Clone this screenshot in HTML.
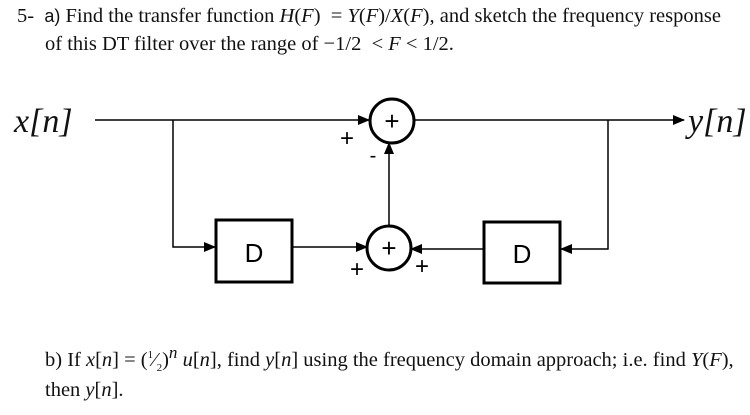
<!DOCTYPE html>
<html><head><meta charset="utf-8"><style>
body{margin:0;width:750px;height:415px;background:#fff;overflow:hidden;font-family:"Liberation Serif",serif;}
.t{position:absolute;font-size:20.5px;white-space:nowrap;color:#111;}
i{font-style:italic;}
</style></head><body>
<div class="t" style="left:17px;top:5px;">5- &nbsp;<span style="font-family:'Liberation Sans',sans-serif;font-size:18px">a)</span> Find the transfer function <i>H</i>(<i>F</i>) &nbsp;= <i>Y</i>(<i>F</i>)/<i>X</i>(<i>F</i>), and sketch the frequency response</div>
<div class="t" style="left:45px;top:33px;">of this DT filter over the range of −1/2 &nbsp;&lt; <i>F</i> &lt; 1/2.</div>
<svg width="750" height="415" style="position:absolute;left:0;top:0">
<defs><marker id="a" markerWidth="12" markerHeight="10" refX="11" refY="5" orient="auto" markerUnits="userSpaceOnUse"><path d="M0,0L12,5L0,10z" fill="#000"/></marker></defs>
<g font-family="Liberation Serif" font-style="italic" font-size="34" fill="#111">
<text x="14" y="132">x[n]</text><text x="688" y="132">y[n]</text></g>
<g stroke="#000" stroke-width="1.5" fill="none">
<line x1="95" y1="120" x2="369" y2="120" marker-end="url(#a)"/>
<line x1="415" y1="120" x2="684" y2="120" marker-end="url(#a)"/>
<polyline points="173,120 173,247 215,247" marker-end="url(#a)"/>
<polyline points="608,120 608,249 561,249" marker-end="url(#a)"/>
<line x1="292" y1="247" x2="367" y2="247" marker-end="url(#a)"/>
<line x1="484" y1="249" x2="411" y2="249" marker-end="url(#a)"/>
<line x1="389" y1="226" x2="389" y2="143" marker-end="url(#a)"/>
</g>
<g stroke="#000" stroke-width="3" fill="#fff">
<circle cx="392" cy="121" r="22"/><circle cx="389" cy="248" r="22"/>
<rect x="216" y="220" width="76" height="62"/><rect x="484" y="222" width="76" height="61"/>
</g>
<g font-family="Liberation Sans" font-size="26" fill="#000" text-anchor="middle">
<text x="392" y="130">+</text><text x="389" y="257">+</text>
<text x="347" y="146" font-size="24">+</text><text x="373" y="162" font-size="20">-</text>
<text x="357" y="277" font-size="24">+</text><text x="422" y="274" font-size="24">+</text>
<text x="254" y="262">D</text><text x="522" y="263">D</text>
</g>
</svg>
<div class="t" style="left:45px;top:343px;">b) If <i>x</i>[<i>n</i>] = (<sup style="font-size:11px">1</sup>⁄<sub style="font-size:11px">2</sub>)<sup><i>n</i></sup> <i>u</i>[<i>n</i>], find <i>y</i>[<i>n</i>] using the frequency domain approach; i.e. find <i>Y</i>(<i>F</i>),</div>
<div class="t" style="left:45px;top:379px;">then <i>y</i>[<i>n</i>].</div>
</body></html>
